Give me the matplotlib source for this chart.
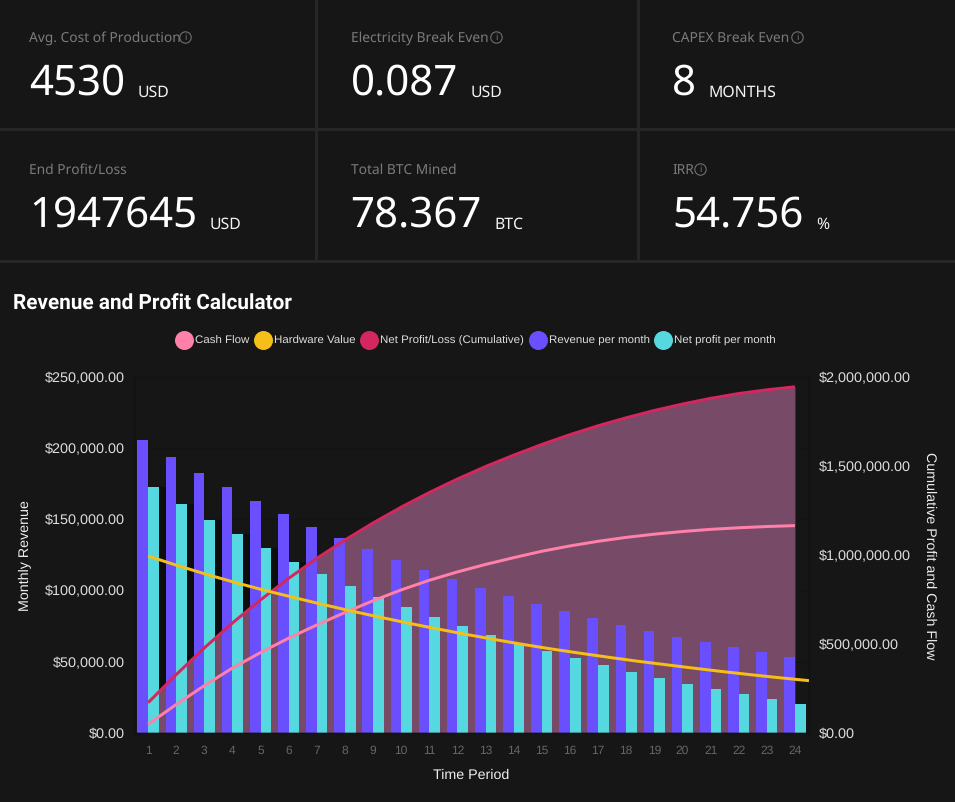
import matplotlib
matplotlib.use("Agg")
import matplotlib.pyplot as plt
from matplotlib.lines import Line2D
from matplotlib.patches import Circle, Rectangle
from matplotlib.ticker import FuncFormatter, MultipleLocator
import numpy as np

plt.rcParams["text.hinting"] = "no_hinting"
plt.rcParams["text.hinting_factor"] = 8
plt.rcParams["font.family"] = ["Liberation Sans", "DejaVu Sans"]

W, H = 955, 802
BG = "#161616"
periods = list(range(1, 25))
revenue = [205800, 193800, 182900, 172800, 162900, 153800, 144700, 136600, 128900, 121500, 114500, 108100,
           101800, 96200, 90600, 85700, 80800, 75800, 71600, 67400, 63900, 60200, 56900, 53400]
net_profit = [172500, 160800, 149800, 139500, 129700, 120400, 111700, 103200, 95300, 88300, 81500, 74900,
              68800, 63000, 57800, 52500, 47500, 42800, 38600, 34400, 30700, 27200, 23700, 20400]
cumulative = [170000, 328000, 478000, 618000, 748000, 869000, 981000, 1084000, 1180000, 1269000, 1351000, 1427000,
              1497000, 1561000, 1621000, 1676000, 1726000, 1771000, 1812000, 1848000, 1880000, 1907000, 1928000, 1945000]
cash_flow = [49000, 160000, 266000, 365000, 452000, 533000, 607000, 677000, 743000, 804000, 858000, 905000,
             947000, 985000, 1021000, 1051000, 1077000, 1099000, 1117000, 1132000, 1144000, 1153000, 1160000, 1165000]
hardware = [994000, 942000, 893000, 847000, 804000, 764000, 725000, 688000, 653000, 619000, 587000, 556000,
            527000, 499000, 473000, 449000, 426000, 404000, 384000, 364000, 345000, 327000, 310000, 294000]
hardware_period = np.linspace(1, 24.5, 24)

cards = [
    ("Avg. Cost of Production", "4530", "USD", 29, 138, 0),
    ("Electricity Break Even", "0.087", "USD", 350.5, 471, 0),
    ("CAPEX Break Even", "8", "MONTHS", 672, 708, 0),
    ("End Profit/Loss", "1947645", "USD", 29, 210, 1),
    ("Total BTC Mined", "78.367", "BTC", 350.5, 494, 1),
    ("IRR", "54.756", "%", 672, 816, 1),
]
icon_x = [185.5, 496.5, 797.5, None, None, 700.5]

C_PINK, C_YEL, C_RED, C_PUR, C_TEAL = "#FF80A8", "#F5BE18", "#D4265F", "#6A4FFF", "#55D8E0"
C_FILL = "#774A68"

fig = plt.figure(figsize=(W / 100, H / 100), dpi=100, facecolor=BG)
pt = lambda px: px * 0.72

# Page layer in pixel coordinates
page = fig.add_axes([0, 0, 1, 1], zorder=0)
page.set_xlim(0, W); page.set_ylim(H, 0); page.axis("off")
div = "#262626"
for ry in (128, 260):
    page.add_patch(Rectangle((0, ry), W, 3, fc=div, lw=0))
for rx in (315, 637):
    page.add_patch(Rectangle((rx, 0), 3, 260, fc=div, lw=0))

CARD_FONT = ["Noto Sans", "DejaVu Sans"]
for (label, value, unit, x, ux, row), ix in zip(cards, icon_x):
    dy = 132 * row
    page.text(x, 42.0 + dy, label, color="#7b7b7b", fontsize=pt(13.8), family=CARD_FONT, va="baseline")
    page.text(x, 95 + dy, value, color="#ffffff", fontsize=pt(42), family=CARD_FONT, va="baseline")
    page.text(ux, 96.7 + dy, unit, color="#f4f4f4", fontsize=pt(15.8), family=CARD_FONT, va="baseline")
    if ix is not None:
        page.add_patch(Circle((ix, 37.5 + dy), 5.7, fill=False, ec="#6f6f6f", lw=0.8))
        page.text(ix, 37.7 + dy, "i", color="#7b7b7b", fontsize=pt(9), family=CARD_FONT, ha="center", va="center")
page.text(13, 310, "Revenue and Profit Calculator", color="#ffffff", fontsize=pt(20.8),
          fontweight="bold", family=["Roboto", "DejaVu Sans"], va="baseline")

# Chart
L, R, T, B = 134, 809, 377, 733
ax = fig.add_axes([L / W, 1 - B / H, (R - L) / W, (B - T) / H], zorder=1)
ax.patch.set_visible(False)
ax2 = ax.twinx()
ax2.patch.set_visible(False)
ax.set_xlim(0.5, 24.5)
ax.set_ylim(0, 250000)
ax2.set_ylim(0, 2000000)

x = np.array(periods, dtype=float)
bw = 0.377
off = 0.19
# dark strips in the gaps between bars
ax.bar(x[:-1] + off + bw, net_profit[:-1], width=bw, color="#0d0d0d", linewidth=0, zorder=1)
ax.fill_between(x, 0, cumulative, color=C_FILL, linewidth=0, zorder=1.5, transform=ax2.transData)
ax.bar(x - off, revenue, width=bw, color=C_PUR, linewidth=0, zorder=2)
ax.bar(x + off, net_profit, width=bw, color=C_TEAL, linewidth=0, zorder=2)
lw = pt(3)
ax2.plot(x, cumulative, color=C_RED, lw=lw, solid_capstyle="butt", zorder=3)
ax2.plot(x, cash_flow, color=C_PINK, lw=lw, solid_capstyle="butt", zorder=3)
ax2.plot(hardware_period, hardware, color=C_YEL, lw=lw, solid_capstyle="butt", zorder=4)

grid = "#131313"
ax.yaxis.set_major_locator(MultipleLocator(50000))
ax2.yaxis.set_major_locator(MultipleLocator(500000))
ax.grid(axis="y", color=grid, lw=1, zorder=0)
ax.set_axisbelow(True)
for a in (ax, ax2):
    for s in a.spines.values():
        s.set_color(grid); s.set_linewidth(1)
ax.yaxis.set_major_formatter(FuncFormatter(lambda v, _: f"${v:,.2f}"))
ax2.yaxis.set_major_formatter(FuncFormatter(lambda v, _: f"${v:,.2f}"))
ax.tick_params(axis="y", length=0, pad=pt(9), labelsize=pt(14.4), labelcolor="#dddddd")
ax2.tick_params(axis="y", length=0, pad=pt(10), labelsize=pt(14.4), labelcolor="#dddddd")
ax.set_xticks(periods)
ax.tick_params(axis="x", length=0, pad=pt(12.5), labelsize=pt(12), labelcolor="#666666")
ax.set_xlabel("Time Period", color="#eeeeee", fontsize=pt(14.2))
ax.set_ylabel("Monthly Revenue", color="#eeeeee", fontsize=pt(14.2))
ax2.set_ylabel("Cumulative Profit and Cash Flow", color="#eeeeee", fontsize=pt(14.2), rotation=270, va="center")
ax.xaxis.set_label_coords((471.5 - L) / (R - L), -(775.5 - B) / (B - T), transform=ax.transAxes)
ax.xaxis.label.set_va("center")
ax.yaxis.set_label_coords(-(134 - 25) / (R - L), (B - 556) / (B - T))
ax.yaxis.label.set_va("center")
ax2.yaxis.set_label_coords(1 + (930 - R) / (R - L), (B - 556) / (B - T))

handles = [Line2D([], [], linestyle="none", marker="o", markersize=pt(19), markeredgewidth=0, color=c)
           for c in (C_PINK, C_YEL, C_RED, C_PUR, C_TEAL)]
fig.legend(handles, ["Cash Flow", "Hardware Value", "Net Profit/Loss (Cumulative)", "Revenue per month", "Net profit per month"],
           loc="center", bbox_to_anchor=(475.5 / W, 1 - 341 / H), ncol=5, frameon=False,
           prop={"size": pt(11.45)}, labelcolor="#dddddd", handlelength=1.6,
           handletextpad=0.18, columnspacing=0.36, borderpad=0, borderaxespad=0)

fig.savefig("out.png", dpi=100, facecolor=BG)
